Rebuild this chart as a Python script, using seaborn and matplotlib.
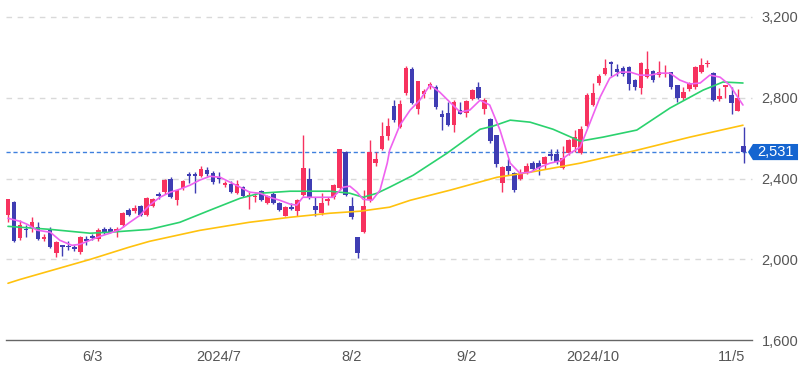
import numpy as np
import pandas as pd
import matplotlib
matplotlib.use("Agg")
import matplotlib.pyplot as plt
import seaborn as sns
from matplotlib.patches import Polygon
from matplotlib.transforms import blended_transform_factory

# ---- daily candles ----
opens = [2218, 2282, 2104, 2150, 2155, 2160, 2098, 2145, 2030, 2070, 2068, 2060, 2035, 2100, 2115, 2100,
         2150, 2148, 2140, 2168, 2245, 2240, 2262, 2218, 2265, 2325, 2333, 2398, 2292, 2352, 2422, 2422,
         2410, 2440, 2428, 2405, 2370, 2375, 2330, 2358, 2312, 2308, 2338, 2278, 2325, 2278, 2215, 2258,
         2238, 2318, 2398, 2262, 2228, 2290, 2308, 2352, 2530, 2262, 2108, 2135, 2292, 2478, 2545, 2610,
         2760, 2655, 2822, 2940, 2745, 2820, 2860, 2855, 2720, 2725, 2665, 2740, 2725, 2795, 2855, 2745,
         2695, 2615, 2378, 2462, 2425, 2398, 2428, 2478, 2478, 2470, 2520, 2520, 2452, 2525, 2555, 2525,
         2660, 2762, 2873, 2918, 2975, 2940, 2945, 2950, 2890, 2848, 2903, 2932, 2912, 2920, 2928, 2862,
         2798, 2843, 2855, 2927, 2965, 2925, 2795, 2855, 2815, 2735, 2560]
highs = [2300, 2290, 2193, 2170, 2210, 2185, 2125, 2158, 2090, 2072, 2090, 2070, 2115, 2115, 2125, 2155,
         2160, 2160, 2160, 2235, 2255, 2270, 2270, 2310, 2305, 2335, 2400, 2405, 2345, 2395, 2430, 2430,
         2460, 2455, 2435, 2430, 2390, 2390, 2395, 2365, 2340, 2330, 2345, 2320, 2335, 2285, 2265, 2280,
         2300, 2615, 2450, 2310, 2330, 2308, 2375, 2548, 2535, 2310, 2110, 2345, 2592, 2530, 2680, 2700,
         2790, 2790, 2955, 2950, 2885, 2845, 2880, 2865, 2740, 2780, 2790, 2780, 2790, 2845, 2880, 2800,
         2700, 2615, 2462, 2495, 2430, 2445, 2478, 2485, 2490, 2510, 2545, 2545, 2562, 2595, 2640, 2660,
         2825, 2875, 2920, 2990, 2980, 2965, 2955, 2955, 2895, 2975, 3032, 2935, 2982, 2962, 2930, 2865,
         2855, 2878, 2955, 2995, 2985, 2930, 2850, 2865, 2855, 2845, 2655]
lows = [2185, 2085, 2094, 2110, 2135, 2095, 2090, 2055, 2010, 2015, 2045, 2040, 2028, 2070, 2095, 2090,
        2125, 2128, 2110, 2160, 2212, 2230, 2212, 2212, 2260, 2300, 2325, 2305, 2270, 2345, 2378, 2330,
        2405, 2412, 2375, 2378, 2358, 2330, 2325, 2308, 2250, 2285, 2290, 2275, 2275, 2240, 2212, 2243,
        2215, 2312, 2300, 2215, 2220, 2268, 2300, 2345, 2312, 2200, 2005, 2130, 2285, 2462, 2540, 2590,
        2680, 2650, 2815, 2770, 2720, 2800, 2845, 2745, 2640, 2660, 2630, 2720, 2705, 2790, 2795, 2720,
        2575, 2458, 2335, 2415, 2335, 2392, 2420, 2440, 2415, 2448, 2490, 2470, 2445, 2518, 2530, 2520,
        2655, 2758, 2865, 2912, 2910, 2910, 2910, 2838, 2838, 2818, 2900, 2880, 2905, 2905, 2845, 2780,
        2790, 2835, 2845, 2922, 2950, 2785, 2785, 2800, 2720, 2732, 2478]
closes = [2297, 2089, 2168, 2145, 2185, 2100, 2112, 2060, 2085, 2060, 2062, 2050, 2108, 2090, 2105, 2145,
          2135, 2135, 2150, 2228, 2218, 2255, 2218, 2305, 2297, 2315, 2395, 2310, 2342, 2388, 2412, 2410,
          2448, 2420, 2385, 2398, 2378, 2335, 2372, 2312, 2320, 2315, 2292, 2315, 2278, 2245, 2258, 2248,
          2292, 2452, 2308, 2245, 2278, 2300, 2368, 2545, 2318, 2208, 2030, 2262, 2530, 2498, 2610, 2660,
          2690, 2770, 2947, 2775, 2883, 2835, 2870, 2755, 2705, 2665, 2778, 2720, 2785, 2838, 2800, 2790,
          2585, 2470, 2458, 2435, 2345, 2420, 2462, 2445, 2450, 2505, 2510, 2480, 2500, 2590, 2605, 2645,
          2815, 2825, 2908, 2948, 2965, 2930, 2920, 2868, 2852, 2972, 2942, 2888, 2928, 2925, 2855, 2798,
          2830, 2872, 2950, 2960, 2972, 2790, 2808, 2862, 2775, 2800, 2531]

# ---- moving averages (x = candle number) ----
ma5_x = [0, 2, 3.2, 4.8, 7, 8.6, 10.6, 11.9, 13.6, 15.3, 16.9, 18.6, 20.2, 21.9, 23.5, 25.2, 26.9, 28.5,
         30.2, 31.8, 33.5, 35.2, 36.8, 38.5, 40.1, 41.8, 43.4, 45.1, 46.8, 47.9, 48.9, 50.6, 52.2, 53.9,
         55.6, 56.7, 57.9, 58.9, 60.4, 61.7, 62.9, 63.3, 65, 66.7, 68.3, 70, 71.6, 73.3, 75, 76.6, 78.3,
         79.9, 81.6, 83.3, 84.9, 86.6, 88.2, 89.9, 91.5, 93.2, 94.9, 96.5, 98.2, 99.8, 101.5, 103.2,
         104.8, 106.5, 108.1, 109.8, 111.4, 113.1, 114.8, 116.4, 118.1, 119.7, 121.9]
ma5_y = [2203, 2188, 2173, 2144, 2134, 2094, 2069, 2074, 2094, 2114, 2129, 2148, 2183, 2218, 2268, 2307,
         2332, 2347, 2367, 2392, 2411, 2406, 2382, 2357, 2332, 2327, 2307, 2292, 2273, 2268, 2307, 2307,
         2307, 2307, 2357, 2362, 2332, 2297, 2292, 2342, 2476, 2540, 2664, 2739, 2788, 2863, 2828, 2778,
         2729, 2739, 2788, 2764, 2640, 2476, 2426, 2431, 2456, 2476, 2486, 2525, 2555, 2674, 2803, 2897,
         2927, 2927, 2912, 2912, 2922, 2922, 2888, 2868, 2873, 2912, 2902, 2863, 2764]
ma25_x = [0, 7, 13.6, 16.9, 23.5, 28.5, 33.5, 38.5, 41.8, 46.8, 53.4, 56.7, 58.9, 61.2, 63.3, 67.2, 72.8,
          78.3, 80.4, 83.3, 86.6, 90.4, 94.9, 98.7, 104.3, 109.8, 115.3, 118.6, 121.9]
ma25_y = [2163, 2148, 2129, 2134, 2148, 2183, 2243, 2302, 2327, 2337, 2337, 2327, 2307, 2327, 2357, 2416,
          2525, 2644, 2659, 2689, 2679, 2644, 2585, 2605, 2640, 2749, 2838, 2878, 2873]
ma75_x = [0, 2, 13.6, 20, 23.5, 31.8, 40, 46.8, 53.4, 58.4, 63.3, 66.7, 73.3, 81.1, 86.6, 94.9, 104.3,
          113.1, 121.9]
ma75_y = [1881, 1900, 1999, 2059, 2089, 2143, 2183, 2208, 2228, 2238, 2258, 2292, 2342, 2406, 2431, 2476,
          2540, 2605, 2664]

last_price = 2531
tick_pos = [14, 35, 57, 76, 97, 120]
tick_labels = ["6/3", "2024/7", "8/2", "9/2", "2024/10", "11/5"]
y_ticks = [1600, 2000, 2400, 2800, 3200]

UP = "#f7325f"
DOWN = "#3f3db3"

sns.set_theme(style="white")
plt.rcParams["font.family"] = ["Liberation Sans", "DejaVu Sans"]

df = pd.DataFrame({"o": opens, "h": highs, "l": lows, "c": closes})
df["i"] = np.arange(len(df))
df["col"] = np.where(df["c"] >= df["o"], UP, DOWN)

fig = plt.figure(figsize=(8.02, 3.75), dpi=100)
ax = fig.add_axes([6 / 802, 35 / 375, 746 / 802, 323 / 375])
ax.set_facecolor("white")

for g in [2000, 2400, 2800, 3200]:
    ax.axhline(g, color="#d9d9d9", lw=1, ls=(0, (4, 4)), zorder=0, clip_on=False)
ax.axhline(last_price, color="#3f80de", lw=1, ls=(0, (3, 2)), zorder=1)

ax.vlines(df["i"], df["l"], df["h"], colors=df["col"], lw=1, zorder=3)
body = np.maximum((df["c"] - df["o"]).abs(), 5)
ax.bar(df["i"], body, bottom=np.minimum(df["o"], df["c"]), width=0.76,
       color=df["col"], linewidth=0, zorder=4)

sns.lineplot(x=ma75_x, y=ma75_y, ax=ax, color="#ffc20e", lw=1.2, zorder=5)
sns.lineplot(x=ma25_x, y=ma25_y, ax=ax, color="#2bd26e", lw=1.2, zorder=5)
sns.lineplot(x=ma5_x, y=ma5_y, ax=ax, color="#ef62ef", lw=1.2, zorder=6)

ax.set_xlim(-0.33, 123.4)
ax.set_ylim(1600, 3200)

ax.set_xticks(tick_pos)
ax.set_xticklabels(tick_labels)
ax.yaxis.tick_right()
ax.set_yticks(y_ticks)
ax.set_yticklabels([f"{v:,}" for v in y_ticks])
ax.tick_params(axis="both", length=0, labelsize=10.5, labelcolor="#555555")
ax.tick_params(axis="x", pad=7)
ax.tick_params(axis="y", pad=7)
ax.set_xlabel("")
ax.set_ylabel("")
for s in ["top", "left", "right"]:
    ax.spines[s].set_visible(False)
ax.spines["bottom"].set_color("#666666")
ax.spines["bottom"].set_linewidth(1)

# current price tag
tr = blended_transform_factory(ax.transAxes, ax.transData)
h = 40
tag = Polygon([(0.9946, last_price), (1.0013, last_price + h), (1.0617, last_price + h),
               (1.0617, last_price - h), (1.0013, last_price - h)], closed=True,
              transform=tr, facecolor="#1565d0", edgecolor="none", clip_on=False, zorder=7)
ax.add_patch(tag)
ax.text(1.0315, last_price, f"{last_price:,}", transform=tr, ha="center", va="center",
        color="white", fontsize=10.5, zorder=8, clip_on=False)

fig.savefig("out.png", dpi=100, facecolor="white")
